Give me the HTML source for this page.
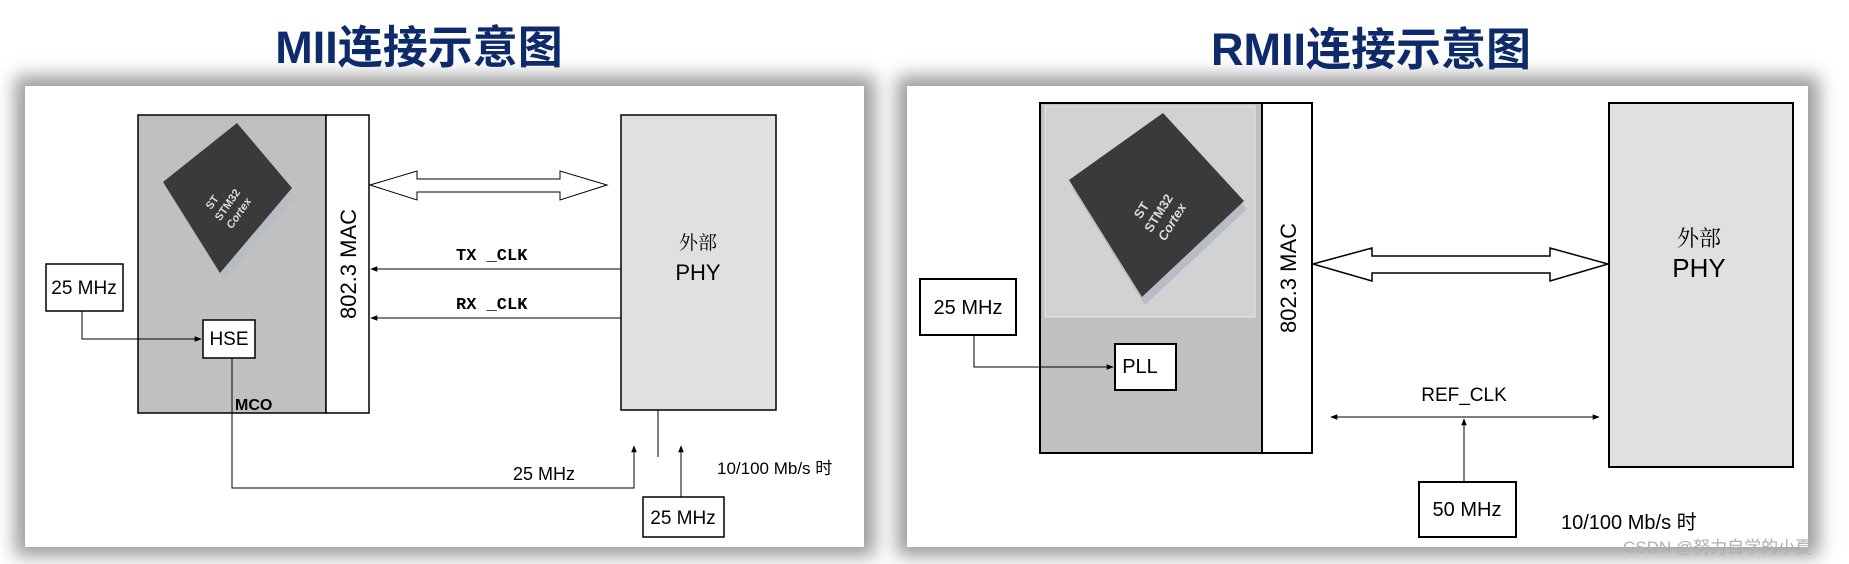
<!DOCTYPE html>
<html><head><meta charset="utf-8"><style>
html,body{margin:0;padding:0;background:#fff;}
body{width:1849px;height:564px;overflow:hidden;position:relative;font-family:"Liberation Sans","Noto Sans CJK SC",sans-serif;}
</style></head><body>
<svg width="1849" height="564" viewBox="0 0 1849 564" xmlns="http://www.w3.org/2000/svg" style="position:absolute;left:0;top:0">
<defs>
<filter id="sh" x="-5%" y="-10%" width="110%" height="120%"><feGaussianBlur stdDeviation="9"/></filter>
<marker id="ah" viewBox="0 0 10 10" refX="9" refY="5" markerWidth="7" markerHeight="7" orient="auto-start-reverse"><path d="M0,1 L10,5 L0,9 z" fill="#000"/></marker>
</defs>
<rect width="1849" height="564" fill="#fff"/>
<rect x="15" y="76" width="860" height="480" fill="#9a9a9a" filter="url(#sh)"/>
<rect x="897" y="76" width="922" height="480" fill="#9a9a9a" filter="url(#sh)"/>
<rect x="25" y="86" width="839" height="461" fill="#fff"/>
<rect x="907" y="86" width="901" height="461" fill="#fff"/>
<g font-family="Liberation Sans,'Noto Sans CJK SC',sans-serif" font-weight="bold" fill="#0d2a6b" font-size="45">
<text x="419" y="63" text-anchor="middle">MII连接示意图</text>
<text x="1371" y="65" text-anchor="middle">RMII连接示意图</text>
</g>

<!-- LEFT -->
<rect x="138" y="115" width="188" height="298" fill="#c0c0c0" stroke="#000" stroke-width="1.5"/>
<rect x="326" y="115" width="43" height="298" fill="#fff" stroke="#000" stroke-width="1.5"/>
<polygon points="237,123 292,188 220,273 163,182" fill="#b8bcc4" transform="translate(4,8)"/>
<polygon points="237,123 292,188 220,273 163,182" fill="#3a3a3a"/>
<g transform="translate(228,200) rotate(-55)" fill="#ddd" font-size="11" font-weight="bold"><text x="-18" y="-8">ST</text><text x="-22" y="6">STM32</text><text x="-22" y="20" font-style="italic">Cortex</text></g>
<text transform="translate(356,264) rotate(-90)" text-anchor="middle" font-size="22">802.3 MAC</text>
<rect x="621" y="115" width="155" height="295" fill="#e0e0e0" stroke="#000" stroke-width="1.5"/>
<text x="698" y="249" text-anchor="middle" font-size="19" font-family="'Noto Serif CJK SC',serif">外部</text>
<text x="698" y="280" text-anchor="middle" font-size="22">PHY</text>
<polygon points="370,185 417,171 417,179 560,179 560,171 607,185 560,200 560,192 417,192 417,200" fill="#fff" stroke="#000" stroke-width="1"/>
<line x1="621" y1="269" x2="371" y2="269" stroke="#000" stroke-width="1" marker-end="url(#ah)"/>
<line x1="621" y1="318" x2="371" y2="318" stroke="#000" stroke-width="1" marker-end="url(#ah)"/>
<g font-family="'Liberation Mono',monospace" font-weight="bold" font-size="17"><text x="456" y="260">TX _CLK</text><text x="456" y="309">RX _CLK</text></g>
<rect x="46" y="264" width="77" height="47" fill="#fff" stroke="#000" stroke-width="1.5"/>
<text x="84" y="294" text-anchor="middle" font-size="19">25 MHz</text>
<rect x="203" y="320" width="52" height="38" fill="#fff" stroke="#000" stroke-width="1.5"/>
<text x="229" y="345" text-anchor="middle" font-size="19">HSE</text>
<polyline points="82,311 82,339 201,339" fill="none" stroke="#000" stroke-width="1" marker-end="url(#ah)"/>
<text x="235" y="410" font-size="16" font-weight="bold">MCO</text>
<polyline points="232,358 232,488 634,488 634,446" fill="none" stroke="#000" stroke-width="1" marker-end="url(#ah)"/>
<text x="513" y="480" font-size="18">25 MHz</text>
<line x1="658" y1="410" x2="658" y2="457" stroke="#000" stroke-width="1"/>
<line x1="681" y1="497" x2="681" y2="446" stroke="#000" stroke-width="1" marker-end="url(#ah)"/>
<rect x="643" y="497" width="81" height="40" fill="#fff" stroke="#000" stroke-width="1.5"/>
<text x="683" y="524" text-anchor="middle" font-size="19">25 MHz</text>
<text x="717" y="474" font-size="17">10/100 Mb/s <tspan font-family="'Noto Sans CJK SC',sans-serif">时</tspan></text>

<!-- RIGHT -->
<rect x="1040" y="103" width="222" height="350" fill="#c0c0c0" stroke="#000" stroke-width="2"/>
<rect x="1045" y="106" width="210" height="211" fill="#d2d2d2" stroke="#e8e8e8" stroke-width="1"/>
<rect x="1262" y="103" width="50" height="350" fill="#fff" stroke="#000" stroke-width="2"/>
<polygon points="1163,113 1244,201 1142,297 1069,180" fill="#b8bcc4" transform="translate(3,8)"/>
<polygon points="1163,113 1244,201 1142,297 1069,180" fill="#3a3a3a"/>
<g transform="translate(1160,208) rotate(-58)" fill="#ddd" font-size="13" font-weight="bold"><text x="-20" y="-10">ST</text><text x="-26" y="6">STM32</text><text x="-26" y="22" font-style="italic">Cortex</text></g>
<text transform="translate(1296,278) rotate(-90)" text-anchor="middle" font-size="22">802.3 MAC</text>
<rect x="1609" y="103" width="184" height="364" fill="#e0e0e0" stroke="#000" stroke-width="2"/>
<text x="1699" y="246" text-anchor="middle" font-size="22" font-family="'Noto Serif CJK SC',serif">外部</text>
<text x="1699" y="277" text-anchor="middle" font-size="26">PHY</text>
<polygon points="1313,264 1372,248 1372,256 1550,256 1550,248 1608,264 1550,281 1550,273 1372,273 1372,281" fill="#fff" stroke="#000" stroke-width="1.5"/>
<rect x="920" y="279" width="96" height="56" fill="#fff" stroke="#000" stroke-width="2"/>
<text x="968" y="314" text-anchor="middle" font-size="20">25 MHz</text>
<rect x="1115" y="344" width="61" height="46" fill="#fff" stroke="#000" stroke-width="2"/>
<text x="1140" y="373" text-anchor="middle" font-size="20">PLL</text>
<polyline points="974,335 974,367 1113,367" fill="none" stroke="#000" stroke-width="1" marker-end="url(#ah)"/>
<line x1="1331" y1="417" x2="1599" y2="417" stroke="#000" stroke-width="1" marker-start="url(#ah)" marker-end="url(#ah)"/>
<text x="1464" y="401" text-anchor="middle" font-size="19">REF_CLK</text>
<line x1="1464" y1="482" x2="1464" y2="419" stroke="#000" stroke-width="1" marker-end="url(#ah)"/>
<rect x="1419" y="482" width="97" height="55" fill="#fff" stroke="#000" stroke-width="2"/>
<text x="1467" y="516" text-anchor="middle" font-size="20">50 MHz</text>
<text x="1561" y="529" font-size="20">10/100 Mb/s <tspan font-family="'Noto Sans CJK SC',sans-serif">时</tspan></text>
<text x="1623" y="553" font-size="17" fill="#b0b0b0" font-family="'Liberation Sans','Noto Sans CJK SC',sans-serif">CSDN @努力自学的小夏</text>
</svg>
</body></html>
